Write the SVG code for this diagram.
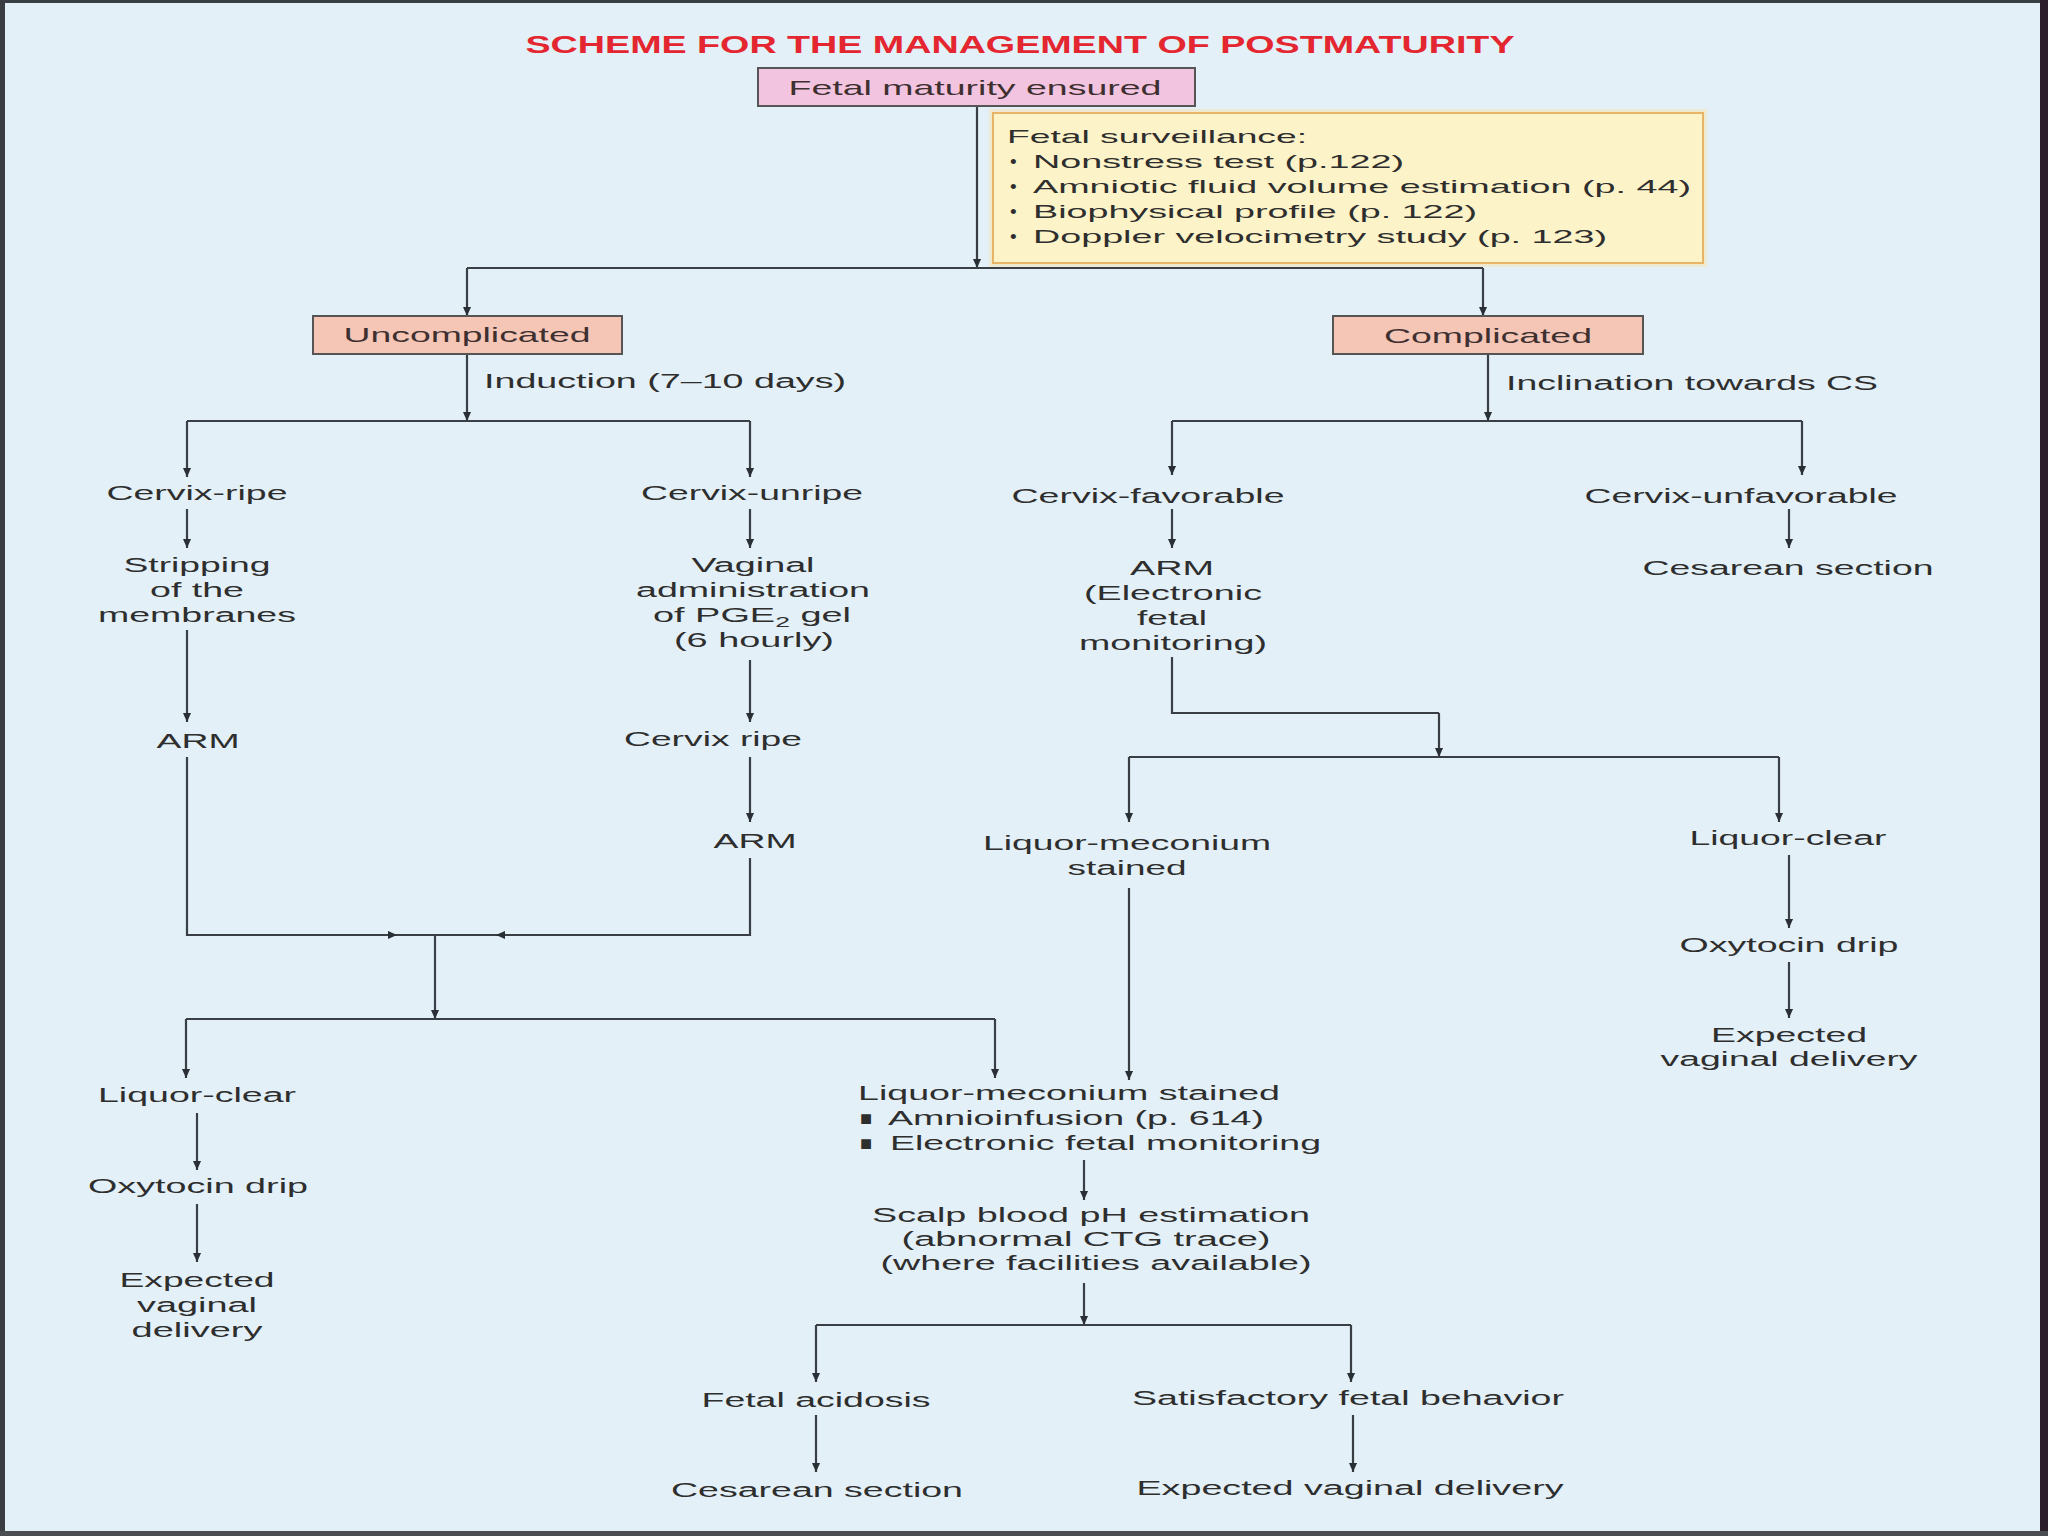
<svg xmlns="http://www.w3.org/2000/svg" width="2048" height="1536" viewBox="0 0 2048 1536">
<style>
.t{font-family:"Liberation Sans",Arial,sans-serif;font-size:20px;fill:#2e2e2e}
.m{text-anchor:middle}
.s{font-size:19px}
.b{font-size:21px;fill:#3e3030}
.title{font-family:"Liberation Sans",Arial,sans-serif;font-size:23px;font-weight:bold;fill:#e32630;text-anchor:middle}
.ln{fill:none;stroke:#3a3f45;stroke-width:2.2}
.ar{marker-end:url(#ah)}
.box{stroke:#555;stroke-width:2}
</style>
<defs>
<marker id="ah" viewBox="0 0 10 10" refX="10" refY="5" markerWidth="10" markerHeight="9" markerUnits="userSpaceOnUse" orient="auto">
<path d="M0,0.5 L10,5 L0,9.5 z" fill="#2a2f35"/>
</marker>
</defs>
<rect x="0" y="0" width="2048" height="1536" fill="#e3f0f7"/>
<rect x="0" y="0" width="2048" height="3" fill="#3a3f45"/>
<rect x="0" y="0" width="5" height="1536" fill="#3a3d42"/>
<rect x="2040" y="0" width="8" height="1536" fill="#2c1d2a"/>
<rect x="0" y="1531" width="2048" height="5" fill="#4a4d52"/>

<text class="title" x="1020" y="53" textLength="989" lengthAdjust="spacingAndGlyphs">SCHEME FOR THE MANAGEMENT OF POSTMATURITY</text>

<g id="connectors">
<path class="ln ar" d="M977,106 V268"/>
<path class="ln" d="M467,268 H1483"/>
<path class="ln ar" d="M467,268 V316"/>
<path class="ln ar" d="M1483,268 V316"/>
<path class="ln ar" d="M467,354 V421"/>
<path class="ln" d="M187,421 H750"/>
<path class="ln ar" d="M187,421 V477"/>
<path class="ln ar" d="M750,421 V477"/>
<path class="ln ar" d="M1488,354 V421"/>
<path class="ln" d="M1172,421 H1802"/>
<path class="ln ar" d="M1172,421 V475"/>
<path class="ln ar" d="M1802,421 V475"/>
<path class="ln ar" d="M187,509 V548"/>
<path class="ln ar" d="M750,509 V548"/>
<path class="ln ar" d="M1172,509 V548"/>
<path class="ln ar" d="M1789,509 V548"/>
<path class="ln ar" d="M187,630 V722"/>
<path class="ln ar" d="M750,660 V722"/>
<path class="ln ar" d="M750,757 V822"/>
<path class="ln" d="M187,757 V935 H750 V858"/>
<path class="ln ar" d="M340,935 H397"/>
<path class="ln ar" d="M560,935 H496"/>
<path class="ln ar" d="M435,935 V1019"/>
<path class="ln" d="M186,1019 H995"/>
<path class="ln ar" d="M186,1019 V1078"/>
<path class="ln ar" d="M995,1019 V1078"/>
<path class="ln" d="M1172,657 V713 H1439"/>
<path class="ln ar" d="M1439,713 V757"/>
<path class="ln" d="M1129,757 H1779"/>
<path class="ln ar" d="M1129,757 V822"/>
<path class="ln ar" d="M1779,757 V822"/>
<path class="ln ar" d="M1129,888 V1080"/>
<path class="ln ar" d="M1789,855 V928"/>
<path class="ln ar" d="M1789,962 V1018"/>
<path class="ln ar" d="M197,1113 V1170"/>
<path class="ln ar" d="M197,1204 V1262"/>
<path class="ln ar" d="M1084,1160 V1200"/>
<path class="ln ar" d="M1084,1283 V1325"/>
<path class="ln" d="M816,1325 H1351"/>
<path class="ln ar" d="M816,1325 V1382"/>
<path class="ln ar" d="M1351,1325 V1382"/>
<path class="ln ar" d="M816,1415 V1472"/>
<path class="ln ar" d="M1353,1415 V1472"/>
</g>

<g id="n-fetal-maturity">
<rect class="box" x="758" y="68" width="437" height="38" fill="#f3c4df"/>
<text class="t b m" x="975" y="95" textLength="373" lengthAdjust="spacingAndGlyphs">Fetal maturity ensured</text>
</g>

<g id="n-surveillance">
<rect x="989" y="109" width="718" height="158" fill="#f6e4bc" opacity="0.6"/>
<rect x="993" y="113" width="710" height="150" fill="#fdf3c8" stroke="#e8b466" stroke-width="2"/>
<text class="t s" x="1007" y="143" textLength="300" lengthAdjust="spacingAndGlyphs">Fetal surveillance:</text>
<text class="t s" x="1010" y="168">•</text>
<text class="t s" x="1033" y="168" textLength="371" lengthAdjust="spacingAndGlyphs">Nonstress test (p.122)</text>
<text class="t s" x="1010" y="193">•</text>
<text class="t s" x="1033" y="193" textLength="658" lengthAdjust="spacingAndGlyphs">Amniotic fluid volume estimation (p. 44)</text>
<text class="t s" x="1010" y="218">•</text>
<text class="t s" x="1033" y="218" textLength="444" lengthAdjust="spacingAndGlyphs">Biophysical profile (p. 122)</text>
<text class="t s" x="1010" y="243">•</text>
<text class="t s" x="1033" y="243" textLength="574" lengthAdjust="spacingAndGlyphs">Doppler velocimetry study (p. 123)</text>
</g>

<g id="n-uncomplicated">
<rect class="box" x="313" y="316" width="309" height="38" fill="#f5c6b6"/>
<text class="t b m" x="467" y="342" textLength="247" lengthAdjust="spacingAndGlyphs">Uncomplicated</text>
</g>
<g id="n-complicated">
<rect class="box" x="1333" y="316" width="310" height="38" fill="#f5c6b6"/>
<text class="t b m" x="1488" y="343" textLength="208" lengthAdjust="spacingAndGlyphs">Complicated</text>
</g>

<g id="l-induction"><text class="t" x="484" y="388" textLength="362" lengthAdjust="spacingAndGlyphs">Induction (7–10 days)</text></g>
<g id="l-inclination"><text class="t" x="1506" y="390" textLength="372" lengthAdjust="spacingAndGlyphs">Inclination towards CS</text></g>

<g id="n-cervix-ripe"><text class="t m" x="197" y="500" textLength="181" lengthAdjust="spacingAndGlyphs">Cervix-ripe</text></g>
<g id="n-cervix-unripe"><text class="t m" x="752" y="500" textLength="222" lengthAdjust="spacingAndGlyphs">Cervix-unripe</text></g>
<g id="n-cervix-favorable"><text class="t m" x="1148" y="503" textLength="273" lengthAdjust="spacingAndGlyphs">Cervix-favorable</text></g>
<g id="n-cervix-unfavorable"><text class="t m" x="1741" y="503" textLength="313" lengthAdjust="spacingAndGlyphs">Cervix-unfavorable</text></g>

<g id="n-stripping">
<text class="t m" x="197" y="572" textLength="147" lengthAdjust="spacingAndGlyphs">Stripping</text>
<text class="t m" x="197" y="597" textLength="94" lengthAdjust="spacingAndGlyphs">of the</text>
<text class="t m" x="197" y="622" textLength="198" lengthAdjust="spacingAndGlyphs">membranes</text>
</g>
<g id="n-vaginal-pge2">
<text class="t m" x="753" y="572" textLength="123" lengthAdjust="spacingAndGlyphs">Vaginal</text>
<text class="t m" x="753" y="597" textLength="234" lengthAdjust="spacingAndGlyphs">administration</text>
<text class="t m" x="752" y="622" textLength="198" lengthAdjust="spacingAndGlyphs">of PGE<tspan dy="5" font-size="14">2</tspan><tspan dy="-5"> gel</tspan></text>
<text class="t m" x="754" y="647" textLength="160" lengthAdjust="spacingAndGlyphs">(6 hourly)</text>
</g>
<g id="n-arm-efm">
<text class="t m" x="1172" y="575" textLength="84" lengthAdjust="spacingAndGlyphs">ARM</text>
<text class="t m" x="1173" y="600" textLength="178" lengthAdjust="spacingAndGlyphs">(Electronic</text>
<text class="t m" x="1172" y="625" textLength="70" lengthAdjust="spacingAndGlyphs">fetal</text>
<text class="t m" x="1173" y="650" textLength="188" lengthAdjust="spacingAndGlyphs">monitoring)</text>
</g>
<g id="n-cesarean-right"><text class="t m" x="1788" y="575" textLength="291" lengthAdjust="spacingAndGlyphs">Cesarean section</text></g>

<g id="n-arm-left"><text class="t m" x="198" y="748" textLength="83" lengthAdjust="spacingAndGlyphs">ARM</text></g>
<g id="n-cervix-ripe2"><text class="t m" x="713" y="746" textLength="178" lengthAdjust="spacingAndGlyphs">Cervix ripe</text></g>
<g id="n-arm-mid"><text class="t m" x="755" y="848" textLength="83" lengthAdjust="spacingAndGlyphs">ARM</text></g>

<g id="n-liquor-mec-right">
<text class="t m" x="1127" y="850" textLength="288" lengthAdjust="spacingAndGlyphs">Liquor-meconium</text>
<text class="t m" x="1127" y="875" textLength="119" lengthAdjust="spacingAndGlyphs">stained</text>
</g>
<g id="n-liquor-clear-right"><text class="t m" x="1788" y="845" textLength="197" lengthAdjust="spacingAndGlyphs">Liquor-clear</text></g>
<g id="n-oxytocin-right"><text class="t m" x="1789" y="952" textLength="219" lengthAdjust="spacingAndGlyphs">Oxytocin drip</text></g>
<g id="n-expected-right">
<text class="t m" x="1789" y="1042" textLength="156" lengthAdjust="spacingAndGlyphs">Expected</text>
<text class="t m" x="1789" y="1066" textLength="257" lengthAdjust="spacingAndGlyphs">vaginal delivery</text>
</g>

<g id="n-liquor-clear-left"><text class="t m" x="197" y="1102" textLength="198" lengthAdjust="spacingAndGlyphs">Liquor-clear</text></g>
<g id="n-oxytocin-left"><text class="t m" x="198" y="1193" textLength="220" lengthAdjust="spacingAndGlyphs">Oxytocin drip</text></g>
<g id="n-expected-left">
<text class="t m" x="197" y="1287" textLength="155" lengthAdjust="spacingAndGlyphs">Expected</text>
<text class="t m" x="197" y="1312" textLength="120" lengthAdjust="spacingAndGlyphs">vaginal</text>
<text class="t m" x="197" y="1337" textLength="131" lengthAdjust="spacingAndGlyphs">delivery</text>
</g>

<g id="n-liquor-mec-mid">
<text class="t" x="858" y="1100" textLength="422" lengthAdjust="spacingAndGlyphs">Liquor-meconium stained</text>
<text class="t" x="860" y="1125" font-size="15">■</text>
<text class="t" x="888" y="1125" textLength="376" lengthAdjust="spacingAndGlyphs">Amnioinfusion (p. 614)</text>
<text class="t" x="860" y="1150" font-size="15">■</text>
<text class="t" x="890" y="1150" textLength="431" lengthAdjust="spacingAndGlyphs">Electronic fetal monitoring</text>
</g>
<g id="n-scalp">
<text class="t m" x="1091" y="1222" textLength="438" lengthAdjust="spacingAndGlyphs">Scalp blood pH estimation</text>
<text class="t m" x="1086" y="1246" textLength="369" lengthAdjust="spacingAndGlyphs">(abnormal CTG trace)</text>
<text class="t m" x="1096" y="1270" textLength="431" lengthAdjust="spacingAndGlyphs">(where facilities available)</text>
</g>
<g id="n-acidosis"><text class="t m" x="816" y="1407" textLength="229" lengthAdjust="spacingAndGlyphs">Fetal acidosis</text></g>
<g id="n-satisfactory"><text class="t m" x="1348" y="1405" textLength="432" lengthAdjust="spacingAndGlyphs">Satisfactory fetal behavior</text></g>
<g id="n-cesarean-bottom"><text class="t m" x="817" y="1497" textLength="292" lengthAdjust="spacingAndGlyphs">Cesarean section</text></g>
<g id="n-expected-bottom"><text class="t m" x="1350" y="1495" textLength="427" lengthAdjust="spacingAndGlyphs">Expected vaginal delivery</text></g>
</svg>
